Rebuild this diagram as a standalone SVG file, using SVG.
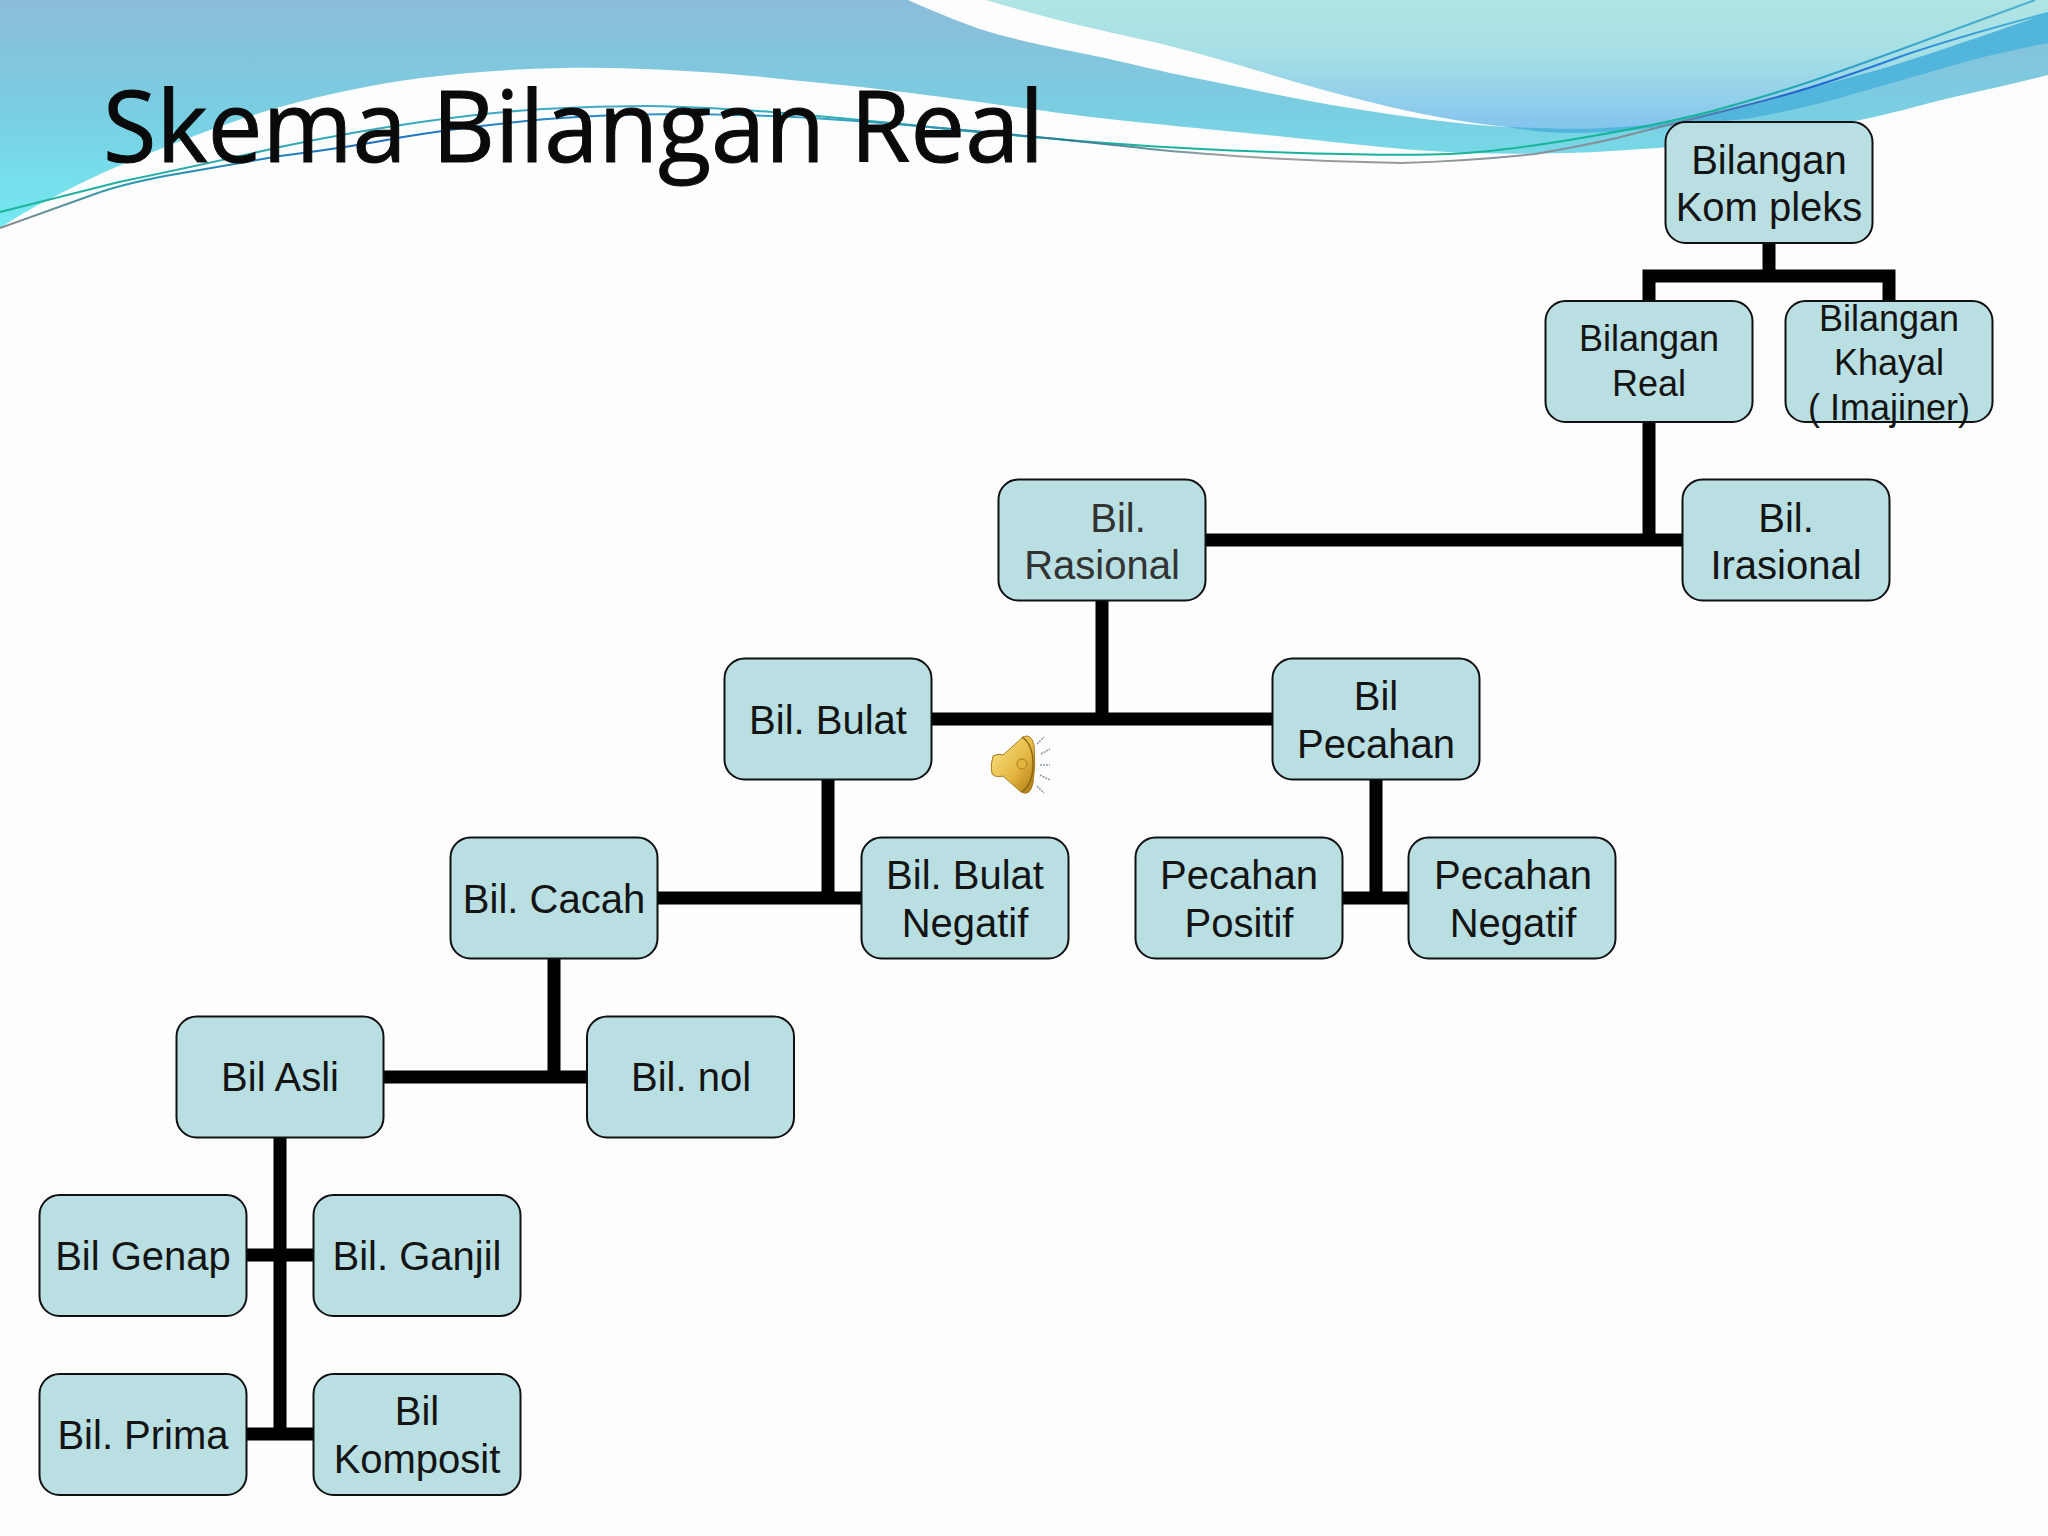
<svg xmlns="http://www.w3.org/2000/svg" width="2048" height="1536" viewBox="0 0 2048 1536">
<defs>
<linearGradient id="gA" gradientUnits="userSpaceOnUse" x1="0" y1="0" x2="0" y2="230"><stop offset="0" stop-color="#8bbcd9"/><stop offset="0.5" stop-color="#79cfe2"/><stop offset="1" stop-color="#74eaf1"/></linearGradient>
<linearGradient id="gB" gradientUnits="userSpaceOnUse" x1="0" y1="0" x2="0" y2="130"><stop offset="0" stop-color="#b1e4e4"/><stop offset="0.4" stop-color="#a6e0e5"/><stop offset="1" stop-color="#84c4ee"/></linearGradient>
<linearGradient id="gL1" gradientUnits="userSpaceOnUse" x1="0" y1="0" x2="2048" y2="0"><stop offset="0" stop-color="#19b49a"/><stop offset="0.12" stop-color="#2fa8b0"/><stop offset="0.3" stop-color="#3fa9c9"/><stop offset="0.5" stop-color="#1ab3a0"/><stop offset="0.83" stop-color="#14b596"/><stop offset="0.9" stop-color="#2f9fc8"/><stop offset="1" stop-color="#4fb4cf"/></linearGradient>
<linearGradient id="gL2" gradientUnits="userSpaceOnUse" x1="0" y1="0" x2="2048" y2="0"><stop offset="0" stop-color="#8a8a8a"/><stop offset="0.06" stop-color="#2a9ab0"/><stop offset="0.18" stop-color="#1e6fc0"/><stop offset="0.4" stop-color="#3aa6c8"/><stop offset="0.52" stop-color="#2a7f9a"/><stop offset="0.6" stop-color="#a0a0a0"/><stop offset="0.8" stop-color="#7f8f98"/><stop offset="0.88" stop-color="#1a62d0"/><stop offset="1" stop-color="#45b8dc"/></linearGradient>
<linearGradient id="gS" x1="0" y1="0" x2="1" y2="1"><stop offset="0" stop-color="#fbe98e"/><stop offset="0.6" stop-color="#e4b53f"/><stop offset="1" stop-color="#a8760f"/></linearGradient>
<style>
.n{fill:#b9dfe2;stroke:#111;stroke-width:2}
.t{font-family:"Liberation Sans",Arial,sans-serif;font-size:40px;fill:#141414;text-anchor:middle}
.s{font-size:36px}
.d{fill:#333}
.c{fill:none;stroke:#000;stroke-width:13}
.w{fill:none;stroke-width:2}
</style>
</defs>
<rect width="2048" height="1536" fill="#fdfdfd"/>
<g id="background">
<path d="M0 228C7 224 19 215 42 203C65 191 100 173 140 157C180 141 233 120 280 107C327 94 374 84 421 78C468 72 514 69 561 68C608 67 655 69 702 72C749 75 792 80 842 85C892 90 957 99 1000 105C1043 110 1055 113 1100 118C1144 123 1206 129 1267 135C1328 141 1403 151 1468 153C1533 155 1593 153 1657 148C1721 143 1800 130 1850 122C1888 115 1920 105 1954 97C1985 90 2018 83 2048 75V0H0Z" fill="url(#gA)"/>
<path d="M908 0C940 14 970 27 1000 35C1033 44 1067 50 1100 57C1133 64 1158 71 1200 79C1250 89 1300 100 1350 108C1400 116 1455 124 1507 127C1540 128 1572 130 1605 128C1636 126 1665 124 1692 117C1735 107 1775 99 1815 87C1850 77 1885 69 1919 57C1965 42 2005 28 2048 13V0Z" fill="#fdfdfd"/>
<path d="M1507 127C1527 130 1548 133 1570 133C1608 133 1640 130 1675 125C1705 121 1733 122 1762 116C1792 110 1820 104 1850 95C1885 85 1920 75 1954 65C1985 56 2018 49 2048 43V10L1692 110Z" fill="#52b5dc"/>
<path d="M986 0C1022 11 1060 21 1100 30C1135 38 1165 44 1200 54C1250 68 1300 84 1350 97C1400 110 1455 122 1507 127C1540 128 1572 130 1605 128C1636 126 1665 124 1692 117C1735 107 1775 99 1815 87C1850 77 1885 69 1919 57C1965 42 2005 28 2048 13V0Z" fill="url(#gB)"/>
<path d="M0 212L119 182Q210 163 280 147Q351 132 421 122Q491 112 543 109Q596 106 649 106Q702 107 772 112Q842 118 912 125Q982 133 1011 135Q1040 138 1120 144Q1200 150 1300 153Q1401 156 1450 154Q1500 152 1587 137Q1675 122 1727 107Q1780 92 1815 80Q1850 68 1902 49Q1954 30 2035 0" class="w" stroke="url(#gL1)"/>
<path d="M0 228Q70 203 95 194Q119 185 165 176Q210 168 280 156Q351 147 403 137Q456 128 526 121Q596 114 684 114Q772 115 842 120Q912 125 1006 134Q1100 143 1150 149Q1200 154 1267 158Q1334 162 1401 163Q1468 161 1535 154Q1605 142 1636 133Q1668 125 1724 111Q1780 97 1815 86Q1850 75 1902 56Q1954 38 2048 13" class="w" stroke="url(#gL2)"/>
</g>
<text id="title" x="103" y="162" font-family="'Open Sans',sans-serif" font-size="98" fill="#0a0a0a" stroke="#0a0a0a" stroke-width="1" textLength="941" lengthAdjust="spacingAndGlyphs">Skema Bilangan Real</text>
<g id="connectors">
<path class="c" d="M1769 243V276M1649 300V276H1889V300"/>
<path class="c" d="M1649 422V540M1206 540H1682"/>
<path class="c" d="M1102 601V719M932 719H1272"/>
<path class="c" d="M828 780V898M658 898H861"/>
<path class="c" d="M1376 780V898M1343 898H1408"/>
<path class="c" d="M554 959V1077M384 1077H587"/>
<path class="c" d="M280 1138V1434M247 1255H313M247 1434H313"/>
</g>
<g id="n1"><rect class="n" x="1665.500" y="122" width="207" height="121" rx="20"/><text class="t" x="1769" y="174">Bilangan</text><text class="t" x="1769" y="221">Kom pleks</text></g>
<g id="n2"><rect class="n" x="1545.500" y="301" width="207" height="121" rx="20"/><text class="t s" x="1649" y="351">Bilangan</text><text class="t s" x="1649" y="396">Real</text></g>
<g id="n3"><rect class="n" x="1785.500" y="301" width="207" height="121" rx="20"/><text class="t s" x="1889" y="331">Bilangan</text><text class="t s" x="1889" y="375">Khayal</text><text class="t s" x="1889" y="420">( Imajiner)</text></g>
<g id="n4"><rect class="n" x="998.500" y="479.500" width="207" height="121" rx="20"/><text class="t d" x="1118" y="532" style="fill:#333">Bil.</text><text class="t d" x="1102" y="579" style="fill:#333">Rasional</text></g>
<g id="n5"><rect class="n" x="1682.500" y="479.500" width="207" height="121" rx="20"/><text class="t" x="1786" y="532">Bil.</text><text class="t" x="1786" y="579">Irasional</text></g>
<g id="n6"><rect class="n" x="724.500" y="658.500" width="207" height="121" rx="20"/><text class="t" x="828" y="734">Bil. Bulat</text></g>
<g id="n7"><rect class="n" x="1272.500" y="658.500" width="207" height="121" rx="20"/><text class="t" x="1376" y="710">Bil</text><text class="t" x="1376" y="758">Pecahan</text></g>
<g id="n8"><rect class="n" x="450.500" y="837.500" width="207" height="121" rx="20"/><text class="t" x="554" y="913">Bil. Cacah</text></g>
<g id="n9"><rect class="n" x="861.500" y="837.500" width="207" height="121" rx="20"/><text class="t" x="965" y="889">Bil. Bulat</text><text class="t" x="965" y="937">Negatif</text></g>
<g id="n10"><rect class="n" x="1135.500" y="837.500" width="207" height="121" rx="20"/><text class="t" x="1239" y="889">Pecahan</text><text class="t" x="1239" y="937">Positif</text></g>
<g id="n11"><rect class="n" x="1408.500" y="837.500" width="207" height="121" rx="20"/><text class="t" x="1513" y="889">Pecahan</text><text class="t" x="1513" y="937">Negatif</text></g>
<g id="n12"><rect class="n" x="176.500" y="1016.500" width="207" height="121" rx="20"/><text class="t" x="280" y="1091">Bil Asli</text></g>
<g id="n13"><rect class="n" x="587" y="1016.500" width="207" height="121" rx="20"/><text class="t" x="691" y="1091">Bil. nol</text></g>
<g id="n14"><rect class="n" x="39.500" y="1195" width="207" height="121" rx="20"/><text class="t" x="143" y="1270">Bil Genap</text></g>
<g id="n15"><rect class="n" x="313.500" y="1195" width="207" height="121" rx="20"/><text class="t" x="417" y="1270">Bil. Ganjil</text></g>
<g id="n16"><rect class="n" x="39.500" y="1374" width="207" height="121" rx="20"/><text class="t" x="143" y="1449">Bil. Prima</text></g>
<g id="n17"><rect class="n" x="313.500" y="1374" width="207" height="121" rx="20"/><text class="t" x="417" y="1425">Bil</text><text class="t" x="417" y="1473">Komposit</text></g>
<g id="speaker">
<path d="M993 756Q998 753 1003 755L1023 737Q1031 733 1034 745Q1036 765 1033 783Q1030 797 1021 792L1003 776Q996 778 992 774Q990 765 993 756Z" fill="url(#gS)" stroke="#a87a20" stroke-width="1"/>
<path d="M1022 737Q1034 745 1033 768Q1032 785 1022 792" fill="none" stroke="#8a6410" stroke-width="1.500"/>
<circle cx="1022" cy="764" r="5" fill="#e2b540" stroke="#a87a20"/>
<path d="M1037 744L1044 737M1041 754L1050 749M1040 765H1050M1040 775L1050 780M1037 786L1044 793" fill="none" stroke="#8a9aa6" stroke-width="1.500" stroke-dasharray="2 1"/>
</g>
</svg>
